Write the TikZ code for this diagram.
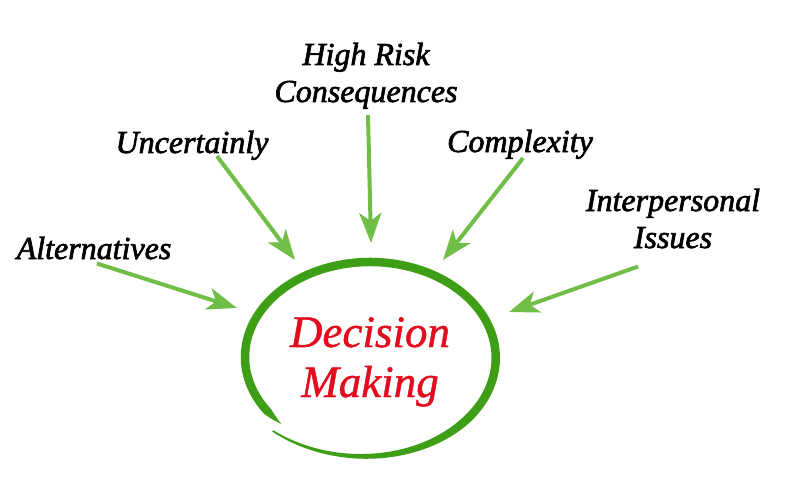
\documentclass[tikz,border=0pt]{standalone}
\usepackage{fontspec}
\setmainfont{Liberation Serif}
\newfontfamily\lblfont{Liberation Serif Italic}[FakeBold=2]
\newfontfamily\dmfont{Liberation Serif Italic}[FakeBold=1]
\usetikzlibrary{arrows.meta}
\definecolor{arrgreen}{RGB}{112,190,72}
\definecolor{ringgreen}{RGB}{62,158,22}
\definecolor{dmred}{RGB}{226,12,30}
\begin{document}
\begin{tikzpicture}[x=1pt,y=-1pt,
  lbl/.style={font=\lblfont\fontsize{32}{37}\selectfont, inner sep=0pt, align=center, anchor=base},
  arr/.style={draw=arrgreen, line width=4pt, -{Stealth[length=30pt,width=22pt,inset=8pt]}},
  declare function={rw(\t)=8.5*min(1,(160-\t)/120)*min(1,(\t+225)/10); rf(\t)=1+0.1*((\t+225)/360)^6;}]
	\fill[white] (0,0) rectangle (800,484);
	% the five labels
	\node[lbl] (alt) at (94,259) {Alternatives};
	\node[lbl] (unc) at (192,153) {Uncertainly};
	\node[lbl] (risk) at (366,102) {High Risk\\Consequences};
	\node[lbl] (comp) at (520,152) {Complexity};
	\node[lbl] (inter) at (673,248) {Interpersonal\\Issues};
	% centre text
	\node[lbl, text=dmred, font=\dmfont\fontsize{45}{50}\selectfont] (dm) at (370,397) {Decision\\Making};
	% hand drawn ring, thin at the start, thick on top
	\fill[ringgreen] plot[domain=135:-225, samples=150] ({370+(125*rf(\x)+rw(\x)/2)*cos(\x)}, {357+(95*rf(\x)+rw(\x)/2)*sin(\x)})
		-- plot[domain=-225:135, samples=150] ({370+(125*rf(\x)-rw(\x)/2)*cos(\x)}, {357+(95*rf(\x)-rw(\x)/2)*sin(\x)}) -- cycle;
	% arrow tips on the ring
	\coordinate (tA) at (237,308);
	\coordinate (tU) at (295,260);
	\coordinate (tR) at (371,243);
	\coordinate (tC) at (443,260);
	\coordinate (tI) at (509,312);
	\draw[arr] ([xshift=3pt,yshift=-4pt]alt.south) -- (tA);
	\draw[arr] ([xshift=25pt,yshift=4pt]unc.south) -- (tU);
	\draw[arr] ([xshift=2pt,yshift=-6pt]risk.south) -- (tR);
	\draw[arr] ([xshift=3pt,yshift=1pt]comp.south) -- (tC);
	\draw[arr] ([xshift=-35pt,yshift=-18pt]inter.south) -- (tI);
\end{tikzpicture}
\end{document}
